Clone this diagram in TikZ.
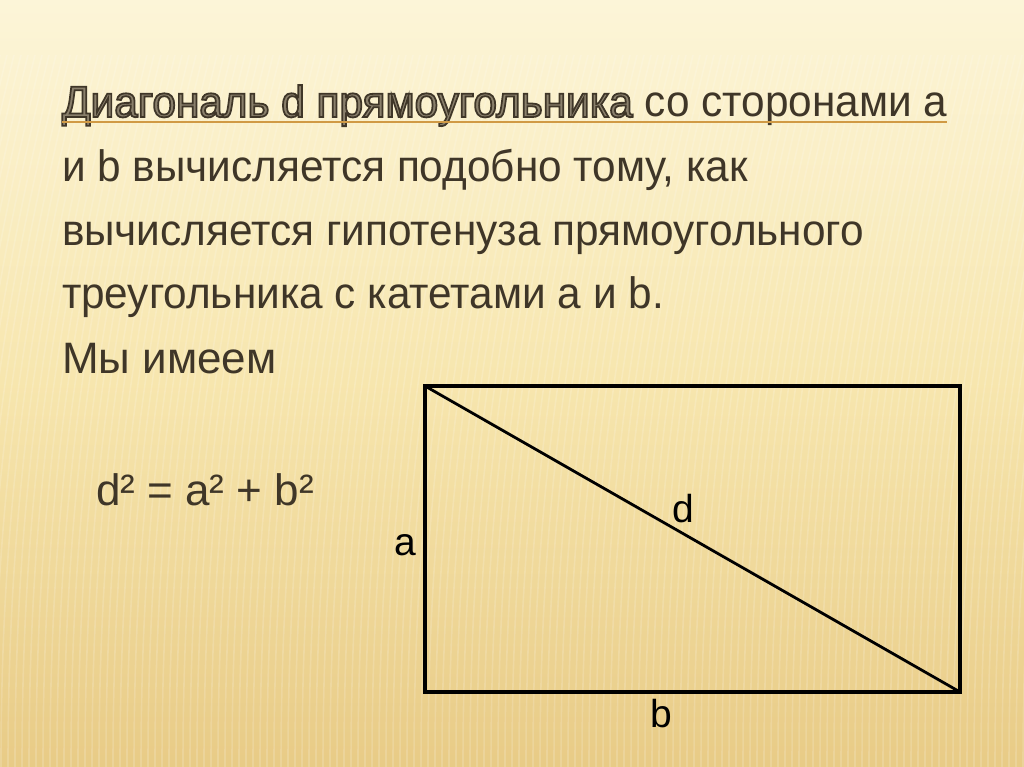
\documentclass[tikz,border=0pt]{standalone}
\usepackage{fontspec}
\setmainfont{Liberation Sans}
\usetikzlibrary{calc}
\definecolor{bgtop}{HTML}{FCF5D8}
\definecolor{bgmid}{HTML}{F7E6AE}
\definecolor{bgbot}{HTML}{E8CB86}
\definecolor{txt}{HTML}{3F3628}
\definecolor{embc}{HTML}{8A806C}
\definecolor{uline}{HTML}{D09A45}
\newcommand{\nrw}[1]{\scalebox{0.962}[1]{#1}}
\newcommand{\embossed}[1]{{\color{embc}\special{pdf:literal direct 2 Tr 1.8 w 0.247 0.212 0.157 RG}#1\special{pdf:literal direct 0 Tr}}}
\tikzset{
  line/.style={anchor=base west, inner sep=0pt, outer sep=0pt, text=txt, font=\fontsize{44}{52}\selectfont},
  formula/.style={anchor=base west, inner sep=0pt, text=txt, font=\fontsize{44}{52}\selectfont},
  lbl/.style={inner sep=0pt, text=black, font=\fontsize{39}{44}\selectfont},
  side/.style={draw=black, line width=4pt, line cap=rect},
  diag/.style={draw=black, line width=2.8pt},
  stripe/.style={white, opacity=0.16, line width=1.6pt},
}
\begin{document}
\begin{tikzpicture}[x=1pt,y=-1pt]
\useasboundingbox (0,0) rectangle (1024,767);
% background
\shade[top color=bgtop, bottom color=bgmid] (0,0) rectangle (1024,380);
\shade[top color=bgmid, bottom color=bgbot] (0,380) rectangle (1024,767);
\begin{scope}
\clip (0,55) rectangle (1024,767);
\foreach \x in {0,7,...,1300} {
  \draw[stripe] (\x,55) .. controls (\x-60,300) and (\x-90,500) .. (\x-90,767);
}
\end{scope}
% text
\node[line] (l1a) at (62,117) {\nrw{\embossed{Диагональ d прямоугольника}}};
\node[line] (l1b) at (l1a.base east) {\nrw{\ со сторонами а}};
\draw[uline, line width=2pt] ($(l1a.base west)+(0,5)$) coordinate (u1) -- ($(l1b.base east)+(0,5)$) coordinate (u2);
\node[line] (l2) at (62,182) {\nrw{и b вычисляется подобно тому, как}};
\node[line] (l3) at (62,245) {\nrw{вычисляется гипотенуза прямоугольного}};
\node[line] (l4) at (62,308) {\nrw{треугольника с катетами a и b.}};
\node[line] (l5) at (62,373) {Мы имеем};
\node[formula] (f) at (96,505) {d² = a² + b²};
% rectangle
\coordinate (tl) at (425,386);
\coordinate (tr) at (960,386);
\coordinate (br) at (960,692);
\coordinate (bl) at (425,692);
\draw[diag] (tl) -- (br);
\draw[side] (tl) -- (tr) -- (br) -- (bl) -- cycle;
\node[lbl] (la) at (405.5,545) {a};
\node[lbl] (ld) at (683.5,509) {d};
\node[lbl] (lb) at (661,714) {b};
\end{tikzpicture}
\end{document}
